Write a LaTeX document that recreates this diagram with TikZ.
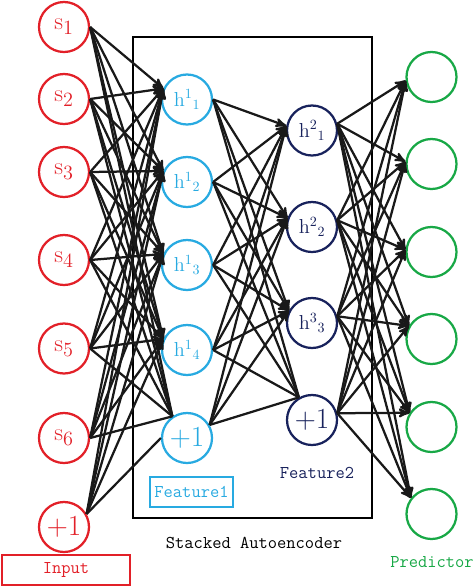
\documentclass[tikz,border=0pt]{standalone}
\usepackage{amsmath}
\usepackage{tikz}
\usetikzlibrary{arrows}
\definecolor{inred}{RGB}{226,32,40}
\definecolor{fcyan}{RGB}{40,170,225}
\definecolor{fnavy}{RGB}{24,34,92}
\definecolor{pgreen}{RGB}{24,168,70}
\tikzset{
 neuron/.style={circle, draw, line width=1.6pt, minimum size=1.25cm, inner sep=0pt},
 wire/.style={black!90, line width=1.6pt},
 tagfont/.style={font=\fontsize{12.8}{15}\selectfont\ttfamily},
 tagbox/.style={draw, line width=1.6pt, tagfont, minimum height=0.75cm, inner sep=0pt}
}

\begin{document}
\begin{tikzpicture}[x=0.025cm, y=-0.025cm]
\useasboundingbox (0,0) rectangle (474,586);
% frame of the autoencoder
\draw[black, line width=1.5pt] (133,37) rectangle (372,518);
\node[tagfont] (sae) at (254,543) {Stacked Autoencoder};

% input layer
\foreach \y/\i in {27/1,99/2,172/3,260/4,348.5/5,438/6}
 \node[neuron, inred, font=\fontsize{19}{22}\selectfont] (s\i) at (64,\y) {$\mathrm{s}_{\i}$};
\node[neuron, inred, font=\huge] (sb) at (64,527) {+1};
\node[tagbox, inred, minimum width=3.2cm] (inp) at (66,570) {Input};

% first hidden layer
\foreach \y/\i in {99.5/1,182/2,265/3,350/4}
 \node[neuron, fcyan, font=\Large] (h\i) at (187,\y) {$\mathrm{h^1{}_{\i}}$};
\node[neuron, fcyan, font=\huge] (hb) at (187,438) {+1};
\node[tagbox, fcyan, minimum width=2.07cm] (fea1) at (191.5,492) {Feature1};

% second hidden layer
\node[neuron, fnavy, font=\Large] (k1) at (312,130.5) {$\mathrm{h^2{}_1}$};
\node[neuron, fnavy, font=\Large] (k2) at (312,227) {$\mathrm{h^2{}_2}$};
\node[neuron, fnavy, font=\Large] (k3) at (312,323) {$\mathrm{h^3{}_3}$};
\node[neuron, fnavy, font=\huge] (kb) at (312,420) {+1};
\node[tagfont, fnavy] (fea2) at (317,473) {Feature2};

% predictor
\foreach \y/\i in {77/1,164/2,252/3,339/4,427/5,514/6}
 \node[neuron, pgreen] (o\i) at (431.5,\y) {};
\node[tagfont, pgreen] (pred) at (432,562) {Predictor};

% input -> feature1
\foreach \i in {1,...,6} {
 \foreach \j in {1,...,4}
  \draw[wire, ->, >=stealth'] (s\i.east) -- (h\j.155);
 \draw[wire] (s\i.east) -- (hb.124);
}
\foreach \j in {1,...,4}
 \draw[wire, ->, >=stealth'] (sb.30) -- (h\j.155);
\draw[wire] (sb.30) -- (hb.west);

% feature1 -> feature2
\foreach \i in {1,...,4} {
 \foreach \j/\a in {1/170,2/160,3/152}
  \draw[wire, ->, >=stealth'] (h\i.east) -- (k\j.\a);
 \draw[wire] (h\i.east) -- (kb.120);
}
\foreach \j/\a in {1/170,2/160,3/152}
 \draw[wire, ->, >=stealth'] (hb.30) -- (k\j.\a);
\draw[wire] (hb.30) -- (kb.120);

% feature2 -> predictor
\foreach \i in {k1,k2,k3,kb}
 \foreach \j/\a in {1/188,2/175,3/175,4/150,5/147,6/142}
  \draw[wire, ->, >=stealth'] (\i.15) -- (o\j.\a);
\end{tikzpicture}
\end{document}
